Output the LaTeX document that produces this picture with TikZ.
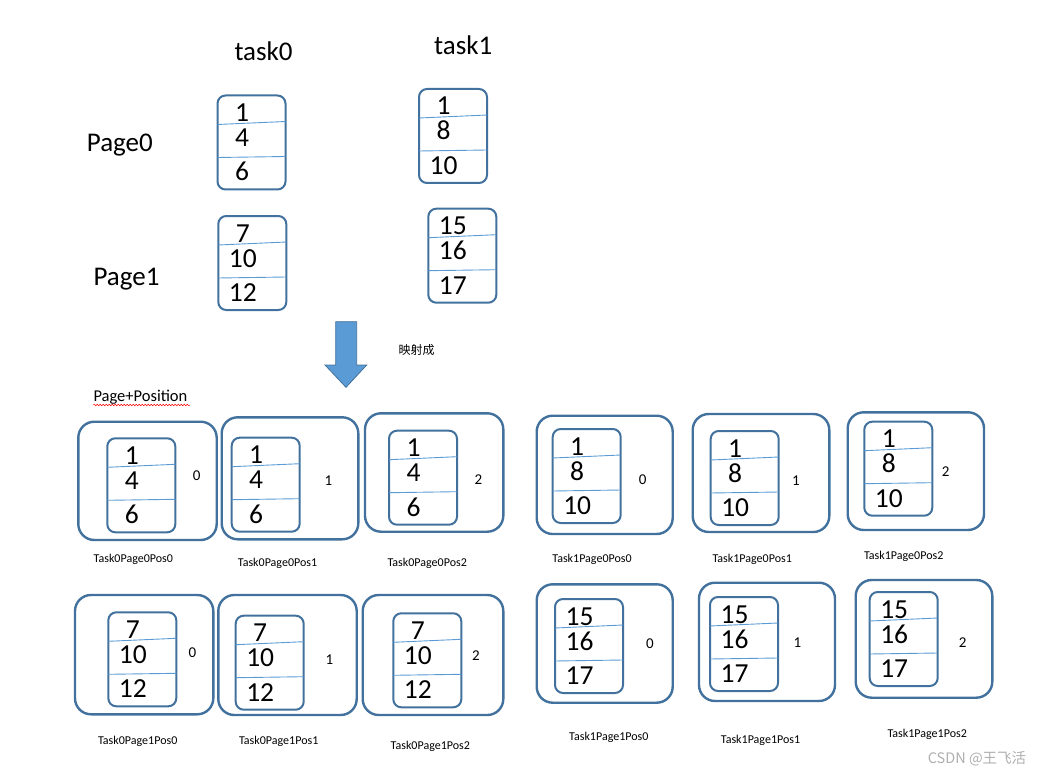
\documentclass[tikz,border=0pt]{standalone}
\usepackage{fontspec}
\setmainfont{Carlito}
\newfontfamily\cjk{Noto Sans CJK SC}
\usetikzlibrary{decorations.pathmorphing}
\definecolor{cardblue}{RGB}{65,113,156}
\definecolor{linblue}{RGB}{91,155,213}
\definecolor{arrowfill}{RGB}{91,155,213}
\definecolor{arrowdraw}{RGB}{65,113,156}
\definecolor{wmgray}{RGB}{175,175,175}

\tikzset{
  innercard/.style={draw=cardblue, line width=2pt, rounded corners=8pt,
    minimum width=68pt, minimum height=94pt, anchor=north west,
    inner sep=0pt, outer sep=0pt},
  outercard/.style={draw=cardblue, line width=2.4pt, rounded corners=16pt,
    anchor=north west, inner sep=0pt, outer sep=0pt},
  divider/.style={draw=linblue, line width=0.9pt},
  num/.style={font=\fontsize{27.5}{30}\selectfont, inner sep=0pt, anchor=base},
  head/.style={font=\fontsize{27}{30}\selectfont, inner sep=0pt, anchor=base west},
  poslab/.style={font=\fontsize{15}{17}\selectfont, inner sep=0pt},
  caplab/.style={font=\fontsize{12}{14}\selectfont, inner sep=0pt},
}

\newcommand\pcard[6]{%
  \node[innercard] (#1) at (#2,#3) {};
  \draw[divider] ([yshift=-29pt]#1.north west) -- ([yshift=-26pt]#1.north east);
  \draw[divider] ([yshift=-62pt]#1.north west) -- ([yshift=-61pt]#1.north east);
  \node[num] (#1-a) at ([xshift=24.5pt,yshift=-26pt]#1.north west) {#4};
  \node[num] (#1-b) at ([xshift=24.5pt,yshift=-51pt]#1.north west) {#5};
  \node[num] (#1-c) at ([xshift=24.5pt,yshift=-85.5pt]#1.north west) {#6};
}
\newcommand\ocard[5]{%
  \node[outercard, minimum width=#4pt, minimum height=#5pt] (#1) at (#2,#3) {};
}

\begin{document}
\begin{tikzpicture}[x=1pt,y=-1pt]
\useasboundingbox (0,0) rectangle (1042,773);

% headings
\node[head] (h-task0) at (234.3,60.7) {task0};
\node[head] (h-task1) at (434,54.3) {task1};
\node[head] (h-page0) at (86.7,151.7) {Page0};
\node[head] (h-page1) at (93.3,285) {Page1};

% top cards
\pcard{T00}{217.5}{95.5}{1}{4}{6}
\pcard{T01}{419}{89}{1}{8}{10}
\pcard{T10}{218.3}{216}{7}{10}{12}
\pcard{T11}{428.3}{208.7}{15}{16}{17}

% arrow
\draw[fill=arrowfill, draw=arrowdraw, line width=0.8pt]
  (335.7,321.7) -- (356.7,321.7) -- (356.7,365) -- (366.7,365) -- (346,387.3)
  -- (325,365) -- (335.7,365) -- cycle;
\node[font=\cjk\fontsize{12}{14}\selectfont, inner sep=0pt] (maplab) at (416.7,350) {映射成};

% Page+Position
\node[font=\fontsize{16.5}{19}\selectfont, inner sep=0pt, anchor=base west] (pp) at (93.3,401.7) {Page+Position};
\draw[red, line width=0.5pt, decorate, decoration={snake, amplitude=0.8pt, segment length=3pt}]
  (93.3,405) -- (190,405);

% row A (task0 page0)
\ocard{A0o}{78.3}{421.7}{138.4}{118.3}
\ocard{A1o}{221.7}{417.3}{136.6}{122}
\ocard{A2o}{365}{413.3}{138.3}{118.4}
\pcard{A0}{107.3}{438.3}{1}{4}{6}
\pcard{A1}{231.7}{437.7}{1}{4}{6}
\pcard{A2}{389}{430.7}{1}{4}{6}
\node[poslab] (A0p) at (196.7,476) {0};
\node[poslab] (A1p) at (328.3,480.7) {1};
\node[poslab] (A2p) at (478.3,479.3) {2};
\node[caplab] (A0c) at (133.3,559.3) {Task0Page0Pos0};
\node[caplab] (A1c) at (277.5,563.3) {Task0Page0Pos1};
\node[caplab] (A2c) at (427.2,563.3) {Task0Page0Pos2};

% row B (task0 page1)
\ocard{B0o}{75}{595}{138.3}{119.3}
\ocard{B1o}{218.3}{595}{138.4}{120}
\ocard{B2o}{362.7}{595}{140.6}{120}
\pcard{B0}{108.3}{612.3}{7}{10}{12}
\pcard{B1}{235.7}{615.7}{7}{10}{12}
\pcard{B2}{393.3}{613.3}{7}{10}{12}
\node[poslab] (B0p) at (192.3,652.7) {0};
\node[poslab] (B1p) at (329.3,660) {1};
\node[poslab] (B2p) at (476,656) {2};
\node[caplab] (B0c) at (137.7,741.7) {Task0Page1Pos0};
\node[caplab] (B1c) at (278.7,741.7) {Task0Page1Pos1};
\node[caplab] (B2c) at (430.3,746.7) {Task0Page1Pos2};

% row C (task1 page0)
\ocard{C0o}{536.7}{415.7}{136}{118.3}
\ocard{C1o}{692.7}{414}{136.6}{118}
\ocard{C2o}{847.7}{412.3}{136.3}{117.7}
\pcard{C0}{552.7}{429}{1}{8}{10}
\pcard{C1}{710.7}{431}{1}{8}{10}
\pcard{C2}{864.3}{421.7}{1}{8}{10}
\node[poslab] (C0p) at (642.7,479.3) {0};
\node[poslab] (C1p) at (796,480.7) {1};
\node[poslab] (C2p) at (945.7,471.7) {2};
\node[caplab] (C0c) at (592,559) {Task1Page0Pos0};
\node[caplab] (C1c) at (752.2,559) {Task1Page0Pos1};
\node[caplab] (C2c) at (903.7,556) {Task1Page0Pos2};

% row D (task1 page1)
\ocard{D0o}{536.7}{584.3}{136}{118.4}
\ocard{D1o}{699}{582.7}{136}{118.3}
\ocard{D2o}{855.7}{580}{136.6}{117.7}
\pcard{D0}{555}{599}{15}{16}{17}
\pcard{D1}{710}{597}{15}{16}{17}
\pcard{D2}{869.7}{592}{15}{16}{17}
\node[poslab] (D0p) at (650,643.3) {0};
\node[poslab] (D1p) at (797.3,642.7) {1};
\node[poslab] (D2p) at (962.7,642.7) {2};
\node[caplab] (D0c) at (608.8,737.7) {Task1Page1Pos0};
\node[caplab] (D1c) at (760.5,740.7) {Task1Page1Pos1};
\node[caplab] (D2c) at (927.2,734.3) {Task1Page1Pos2};

% watermark
\node[font=\cjk\fontsize{14.5}{16}\selectfont, text=wmgray, inner sep=0pt] (wm) at (977,759) {CSDN @王飞活};
\end{tikzpicture}
\end{document}
